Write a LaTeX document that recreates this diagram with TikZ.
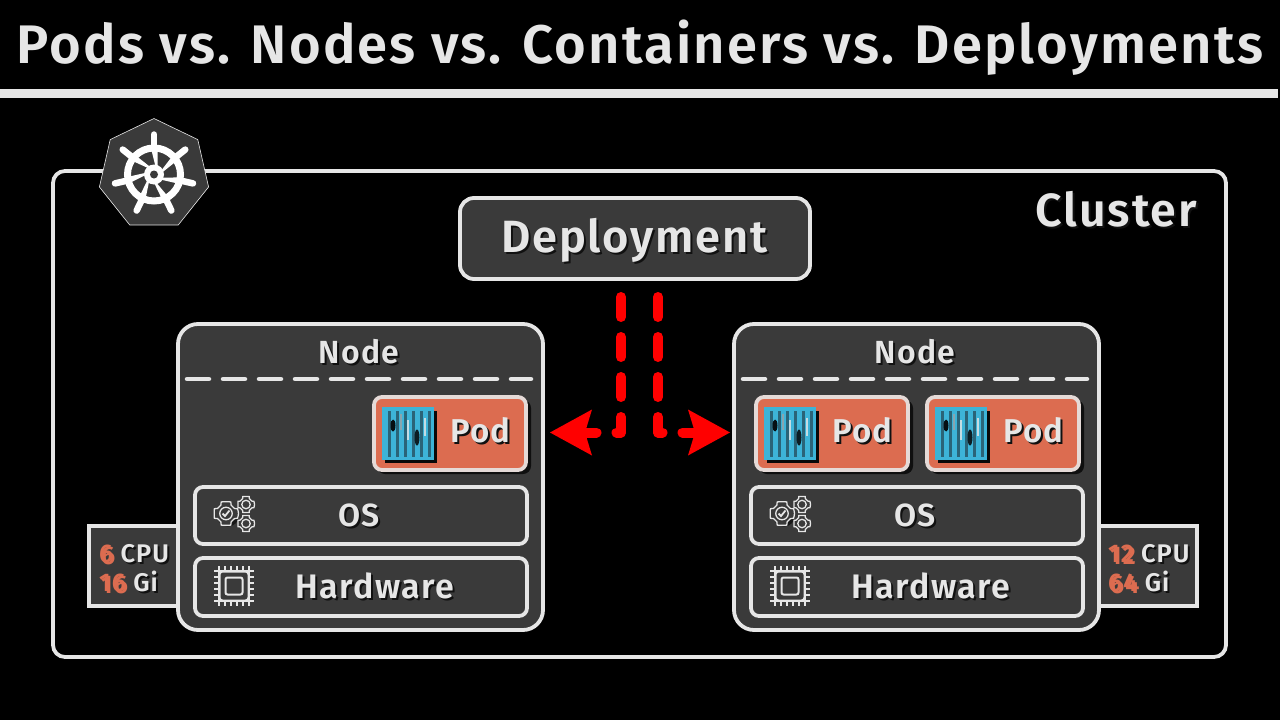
\documentclass[tikz,border=0pt]{standalone}
\usepackage{fontspec}
\setmainfont{Fira Sans}[BoldFont={Fira Sans SemiBold},LetterSpace=4]
\usetikzlibrary{arrows.meta,shapes.geometric}
\definecolor{fgc}{HTML}{E6E6E6}
\definecolor{panel}{HTML}{3A3A3A}
\definecolor{podc}{HTML}{DC6C50}
\definecolor{blu}{HTML}{3DB4D8}
\definecolor{barc}{HTML}{2A6478}
\newcommand{\fsz}[1]{\fontsize{#1}{#1}\selectfont}
\newcommand{\shd}[1]{\leavevmode\rlap{\raisebox{-2pt}{\kern2pt\color{black!70!panel}#1}}#1}
\tikzset{
 panelbox/.style={draw=fgc,fill=panel,line width=3.8pt,rounded corners=#1,inner sep=0pt,outer sep=0pt},
 lbl/.style={text=fgc,inner sep=0pt,anchor=base,font=\fsz{#1}\bfseries},
 redline/.style={draw=red,line width=10pt,line cap=round,line join=round,dash pattern=on 20pt off 20pt},
 ico/.style={draw=fgc,line width=1.3pt},
 pics/gearshape/.style={code={
   \draw[ico,fill=panel] plot[smooth cycle,tension=.25] coordinates {
     (0:#1) (22:#1) (30:#1*.8) (60:#1*.8) (68:#1) (112:#1) (120:#1*.8) (150:#1*.8) (158:#1) (202:#1) (210:#1*.8) (240:#1*.8) (248:#1) (292:#1) (300:#1*.8) (330:#1*.8) (338:#1)};
   \draw[ico] (0,0) circle[radius=#1*.5];
 }},
 pics/gearicon/.style={code={
   \fill[black!60!panel] (2,2) circle[radius=11];
   \pic at (0,0) {gearshape=12.5};
   \pic at (20,-9) {gearshape=8.5};
   \pic at (20,10) {gearshape=8.5};
   \draw[ico,line width=1.8pt] (-3.5,0) -- (-1,2.5) -- (3.5,-3);
 }},
 pics/chipicon/.style={code={
   \foreach \t in {-15,-9,-3,3,9,15}{
     \draw[ico,line width=1.6pt] (\t,-20) -- (\t,20);
     \draw[ico,line width=1.6pt] (-20,\t) -- (20,\t);
   }
   \draw[ico,fill=panel,line width=2pt,rounded corners=3pt] (-14.5,-14.5) rectangle (14.5,14.5);
   \draw[ico,line width=2pt,rounded corners=2pt] (-8.5,-8.5) rectangle (8.5,8.5);
 }},
 pics/boxicon/.style={code={
   \fill[black!85!panel] (-23,-23) rectangle (29,29);
   \fill[blu] (-26,-27) rectangle (26,26);
   \foreach \t in {-19,-11,-3,5,13,21}{\fill[barc] (\t-1.5,-23) rectangle (\t+1.5,23);}
   \fill[black!85!barc] (-15,-8) ellipse[x radius=2.5,y radius=6];
   \fill[fgc!80!blu] (-1.5,-14) rectangle (0.5,6);
   \fill[black!70!barc] (9,4) ellipse[x radius=2.5,y radius=8];
   \fill[fgc!80!blu] (16,-16) rectangle (18,2);
   \fill[fgc!50!barc] (-8,-20) rectangle (-6,-4);
 }},
}
\begin{document}
\begin{tikzpicture}[x=1pt,y=-1pt]
\useasboundingbox (0,0) rectangle (1280,720);
\fill[black] (0,0) rectangle (1280,720);
% title
\node[lbl=54.3] (title) at (640,63) {Pods vs. Nodes vs. Containers vs. Deployments};
\fill[fgc] (0,89) rectangle (1278,98);
% cluster
\node[panelbox=12pt,fill=black,minimum width=1173pt,minimum height=486pt] (cluster) at (639.5,414) {};
% logo
\node[regular polygon,regular polygon sides=7,draw=fgc,line width=.6pt,fill=panel,minimum size=112pt,inner sep=0pt] (logo) at (154,174.5) {};
\foreach \a in {0,1,...,6}{
  \fill[white] (logo.center) ++({-90+\a*360/7+90}:3.5) -- ++({-90+\a*360/7}:28) -- ++({-90+\a*360/7-90}:7) -- cycle;
  \draw[white,line width=6.5pt,line cap=round] (logo.center) ++({-90+\a*360/7}:27) -- ++({-90+\a*360/7}:13);
}
\draw[white,line width=7pt] (logo.center) circle[radius=26.5];
\fill[white] (logo.center) circle[radius=10];
\fill[panel] (logo.center) circle[radius=4];
\node[lbl=46.5,anchor=base east] (clusterlbl) at (1197,226) {\shd{Cluster}};
% deployment
\node[panelbox=14pt,minimum width=350pt,minimum height=81pt] (dep) at (635,238.5) {};
\node[lbl=45.2] (deplbl) at (634.5,252) {\shd{Deployment}};
% resource boxes
\node[panelbox=0pt,minimum width=90pt,minimum height=80pt] (resL) at (134,566) {};
\node[panelbox=0pt,minimum width=98pt,minimum height=80pt] (resR) at (1148,566) {};
\node[lbl=25.5,anchor=base west] (resLa) at (99,562) {\shd{{\color{podc}6} CPU}};
\node[lbl=25.5,anchor=base west] (resLb) at (99,591) {\shd{{\color{podc}16} Gi}};
\node[lbl=25.5,anchor=base west] (resRa) at (1108,562) {\shd{{\color{podc}12} CPU}};
\node[lbl=25.5,anchor=base west] (resRb) at (1108,591) {\shd{{\color{podc}64} Gi}};
% nodes
\foreach \nm/\dx in {L/0,R/556}{
  \begin{scope}[xshift=\dx pt]
  \node[panelbox=20pt,minimum width=365pt,minimum height=306pt] (node\nm) at (360.5,477) {};
  \node[lbl=32] (node\nm t) at (359,363) {\shd{Node}};
  \draw[fgc,line width=4.5pt,dash pattern=on 22pt off 14pt,line cap=round] (187,379) coordinate (ds\nm) -- (531,379) coordinate (de\nm);
  \node[panelbox=8pt,minimum width=332pt,minimum height=57pt] (os\nm) at (361,515.5) {};
  \node[panelbox=8pt,minimum width=332pt,minimum height=58pt] (hw\nm) at (361,587) {};
  \pic at (226,513.5) {gearicon};
  \pic at (234,586) {chipicon};
  \node[lbl=32] (os\nm t) at (359,526) {\shd{OS}};
  \node[lbl=34] (hw\nm t) at (375,598) {\shd{Hardware}};
  \end{scope}
}
% pods
\foreach \nm/\x in {a/450,b/832,c/1003}{
  \fill[black!75!panel,rounded corners=8pt] (\x-73,400) rectangle (\x+81,474);
  \node[panelbox=8pt,fill=podc,draw=fgc!90!podc,minimum width=152pt,minimum height=73pt] (pod\nm) at (\x,433.5) {};
  \pic at (\x-42,433.5) {boxicon};
  \node[lbl=33] (pod\nm t) at (\x+30.5,442) {\shd{Pod}};
}
% arrows
\coordinate (tipL) at (550,432.5);
\coordinate (tipR) at (730,432.5);
\draw[redline,-{Stealth[length=42pt,width=46pt,inset=7pt,red,line width=0pt,sep=0pt]}] ([xshift=-14pt,yshift=-18pt]dep.south) -- ++(0,135.5) -- (tipL);
\draw[redline,-{Stealth[length=42pt,width=46pt,inset=7pt,red,line width=0pt,sep=0pt]}] ([xshift=23pt,yshift=-18pt]dep.south) -- ++(0,135.5) -- (tipR);
\end{tikzpicture}
\end{document}
